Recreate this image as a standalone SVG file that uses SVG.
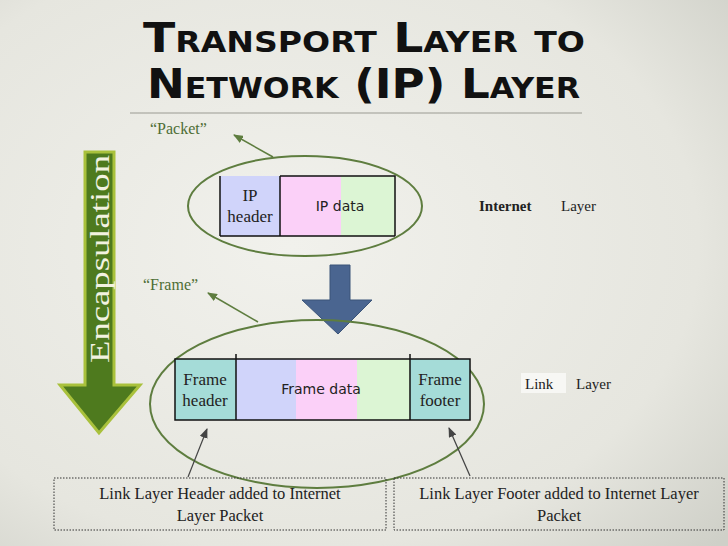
<svg xmlns="http://www.w3.org/2000/svg" width="728" height="546" viewBox="0 0 728 546">
<defs>
<radialGradient id="bg" cx="0.4" cy="0.45" r="0.8"><stop offset="0" stop-color="#f1f1ec"/><stop offset="0.7" stop-color="#e6e6df"/><stop offset="1" stop-color="#cfd0c8"/></radialGradient>
<marker id="ah" markerWidth="10" markerHeight="8" refX="9" refY="4" orient="auto" markerUnits="userSpaceOnUse"><path d="M0,0 L10,4 L0,8 Z" fill="#5e7d3f"/></marker>
<marker id="ak" markerWidth="10" markerHeight="8" refX="9" refY="4" orient="auto" markerUnits="userSpaceOnUse"><path d="M0,0 L10,4 L0,8 Z" fill="#444"/></marker>
</defs>
<style>
.t{font-family:"DejaVu Sans",sans-serif;font-weight:bold;font-variant:small-caps;font-size:40px;fill:#111}
.s{font-family:"Liberation Serif","Times New Roman",serif;fill:#222}
.g{font-family:"Liberation Serif",serif;fill:#4e6e35;font-size:16px}
.d{font-family:"DejaVu Sans",sans-serif;font-size:14px;fill:#222}
.ell{fill:none;stroke:#5e7d3f;stroke-width:2}
.box{fill:none;stroke:#111;stroke-width:1.5}
.note{fill:none;stroke:#333;stroke-dasharray:1.5 1.5}
</style>
<rect width="728" height="546" fill="url(#bg)"/>
<g id="title">
<text class="t" x="143" y="52" textLength="442" lengthAdjust="spacingAndGlyphs">Transport Layer to</text>
<text class="t" x="147" y="98" textLength="433" lengthAdjust="spacingAndGlyphs">Network (IP) Layer</text>
<line x1="130" y1="113" x2="582" y2="113" stroke="#9a9a92" stroke-width="1"/>
</g>
<g id="encapsulation">
<path d="M85,152 H114 V385 H140 L99,433 L60,385 H85 Z" fill="#4e7a1e" stroke="#a9c13c" stroke-width="3"/>
<text font-family="Liberation Serif,serif" font-size="27" fill="#f2f2e0" transform="translate(109,363) rotate(-90)" textLength="208" lengthAdjust="spacingAndGlyphs">Encapsulation</text>
</g>
<g id="packet">
<ellipse class="ell" cx="305" cy="206" rx="117" ry="50"/>
<rect x="220" y="176" width="60" height="60" fill="#d0d4fa"/>
<rect x="280" y="176" width="61" height="60" fill="#fbd0f8"/>
<rect x="341" y="176" width="54" height="60" fill="#dcf5d4"/>
<path class="box" d="M220,176 V236 M280,176 V236 M280,176 H395 V236 M220,236 H395"/>
<text class="s" font-size="17" x="250" y="201" text-anchor="middle">IP</text>
<text class="s" font-size="17" x="250" y="222" text-anchor="middle">header</text>
<text class="d" x="340" y="211" text-anchor="middle">IP data</text>
<text class="g" x="150" y="134">“Packet”</text>
</g>
<g id="internet-label">
<text class="s" font-size="15" font-weight="bold" x="479" y="211">Internet</text>
<text class="s" font-size="15" x="561" y="211">Layer</text>
</g>
<g id="down-arrow">
<path d="M330,265 H350 V300 H372 L338,334 L302,300 H330 Z" fill="#4a6590" stroke="#3b5479" stroke-width="1"/>
</g>
<g id="frame">
<ellipse class="ell" cx="317" cy="404" rx="167" ry="84"/>
<rect x="175" y="359" width="61" height="61" fill="#a5dcd8"/>
<rect x="236" y="359" width="60" height="61" fill="#d0d4fa"/>
<rect x="296" y="359" width="61" height="61" fill="#fbd0f8"/>
<rect x="357" y="359" width="53" height="61" fill="#dcf5d4"/>
<rect x="410" y="359" width="60" height="61" fill="#a5dcd8"/>
<path class="box" d="M175,359 H470 V420 H175 Z M236,354 V420 M410,354 V420"/>
<text class="s" font-size="17" x="205" y="385" text-anchor="middle">Frame</text>
<text class="s" font-size="17" x="205" y="406" text-anchor="middle">header</text>
<text class="d" x="321" y="394" text-anchor="middle">Frame data</text>
<text class="s" font-size="17" x="440" y="385" text-anchor="middle">Frame</text>
<text class="s" font-size="17" x="440" y="406" text-anchor="middle">footer</text>
<text class="g" x="143" y="290">“Frame”</text>
</g>
<g id="link-label">
<rect x="521" y="373" width="45" height="20" fill="#f7f7f4"/>
<text class="s" font-size="15" x="525" y="389">Link</text>
<text class="s" font-size="15" x="576" y="389">Layer</text>
</g>
<g id="note-header">
<rect class="note" x="54" y="478" width="332" height="52"/>
<text class="s" font-size="16.5" x="220" y="499" text-anchor="middle" fill="#333">Link Layer Header added to Internet</text>
<text class="s" font-size="16.5" x="220" y="521" text-anchor="middle" fill="#333">Layer Packet</text>
</g>
<g id="note-footer">
<rect class="note" x="394" y="478" width="330" height="52"/>
<text class="s" font-size="16.5" x="559" y="499" text-anchor="middle" fill="#333">Link Layer Footer added to Internet Layer</text>
<text class="s" font-size="16.5" x="559" y="521" text-anchor="middle" fill="#333">Packet</text>
</g>
<g id="connectors">
<line x1="273" y1="157" x2="234" y2="135" stroke="#5e7d3f" stroke-width="1.5" marker-end="url(#ah)"/>
<line x1="258" y1="322" x2="208" y2="293" stroke="#5e7d3f" stroke-width="1.5" marker-end="url(#ah)"/>
<line x1="188" y1="477" x2="207" y2="429" stroke="#444" stroke-width="1.2" marker-end="url(#ak)"/>
<line x1="470" y1="476" x2="449" y2="428" stroke="#444" stroke-width="1.2" marker-end="url(#ak)"/>
</g>
</svg>
